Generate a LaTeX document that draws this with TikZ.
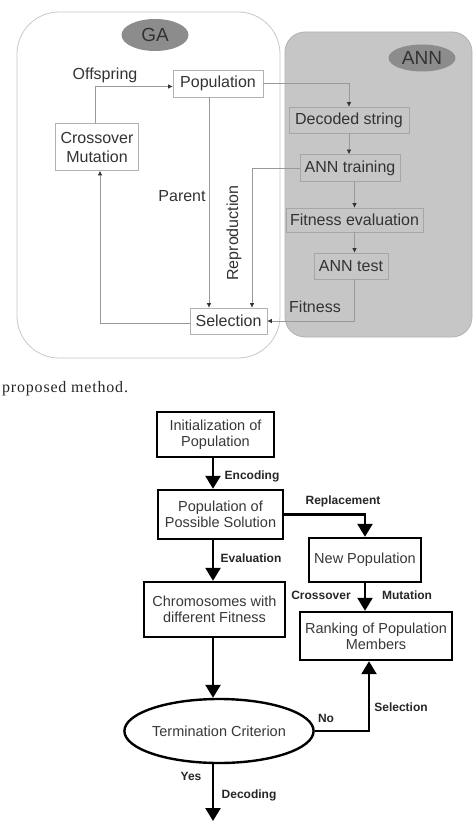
\documentclass[tikz,border=0pt]{standalone}
\usepackage{fontspec}
\setmainfont{Liberation Sans}
\newfontfamily\capfont[LetterSpace=5]{Liberation Serif}
\usetikzlibrary{arrows.meta,shapes.geometric,calc}
\definecolor{annfill}{HTML}{C6C6C6}
\definecolor{ovfill}{HTML}{8C8C8C}
\definecolor{txtA}{HTML}{333333}
\tikzset{
  gabox/.style={draw=black!30, line width=0.6pt, fill=white, text=txtA, font=\fontsize{16}{19}\selectfont, inner sep=0pt, align=center},
  annbox/.style={gabox, fill=annfill, draw=black!35},
  conA/.style={draw=black!40, line width=0.6pt},
  arrA/.style={conA, -{Latex[length=4.5pt,width=4.5pt,color=txtA]}},
  lblA/.style={text=txtA, font=\fontsize{16}{19}\selectfont, inner sep=0pt},
  ovl/.style={ellipse, fill=ovfill, draw=none, text=txtA, font=\fontsize{19}{22}\selectfont, inner sep=0pt},
  fbox/.style={draw=black, line width=2.4pt, fill=white, text=black!78, font=\fontsize{14.5}{16}\selectfont, inner sep=0pt, align=center},
  arrB/.style={draw=black, line width=2.4pt, -{Triangle[length=13pt,width=15pt]}},
  conB/.style={draw=black, line width=2.4pt},
  lblB/.style={text=black!85, font=\fontsize{12}{14}\selectfont\bfseries, inner sep=0pt},
}
\begin{document}
\begin{tikzpicture}[x=1pt,y=-1pt]
\useasboundingbox (0,0) rectangle (474,821);
% ---------- top diagram ----------
\draw[draw=black!22, line width=0.8pt, rounded corners=42pt] (17,12) rectangle (280,358);
\draw[draw=black!30, fill=annfill, line width=0.8pt, rounded corners=20pt] (285,32) rectangle (472,337);
\node[ovl, minimum width=67pt, minimum height=32pt] (ga) at (155,35) {GA};
\node[ovl, minimum width=67pt, minimum height=27pt] (ann) at (422,58) {ANN};

\node[gabox, minimum width=90pt, minimum height=27pt] (pop) at (218,83.5) {Population};
\node[gabox, minimum width=83pt, minimum height=47pt] (cm) at (97,147) {Crossover\\Mutation};
\node[gabox, minimum width=77pt, minimum height=26pt] (sel) at (228.5,321) {Selection};
\node[annbox, minimum width=120pt, minimum height=26pt] (dec) at (349,120) {Decoded string};
\node[annbox, minimum width=100pt, minimum height=27pt] (train) at (350,168) {ANN training};
\node[annbox, minimum width=137pt, minimum height=24pt] (fit) at (354.5,220) {Fitness evaluation};
\node[annbox, minimum width=74pt, minimum height=26pt] (test) at (351,266) {ANN test};

\node[lblA] (loff) at (105,75) {Offspring};
\node[lblA] (lpar) at (182,196) {Parent};
\node[lblA, rotate=90] (lrep) at (234,233) {Reproduction};
\node[lblA] (lfit) at (315,307) {Fitness};

\draw[arrA] (pop.east) -| (dec.north);
\draw[arrA] (dec.south) -- (dec.south |- train.north);
\draw[arrA] (train.south -| fit.north) -- (fit.north);
\draw[arrA] (fit.south) -- (fit.south |- test.north);
\draw[arrA] (fit.south |- test.south) |- (sel.east);
\draw[arrA] ([xshift=-9pt]pop.south) -- ([xshift=-9pt]pop.south |- sel.north);
\draw[arrA] (train.west) -| ([xshift=23.5pt]sel.north);
\draw[arrA] ([yshift=-2pt]sel.west) -| ([xshift=3pt]cm.south);
\draw[arrA] ([xshift=-2pt]cm.north) |- ([yshift=-3pt]pop.west);

% ---------- caption fragment ----------
\node[anchor=base west, inner sep=0pt, font=\capfont\fontsize{16}{18}\selectfont, text=black!85] (cap) at (2,392) {proposed method.};

% ---------- bottom diagram ----------
\coordinate (ax) at (213,0);
\coordinate (bx) at (369,0);
\node[fbox, minimum width=117pt, minimum height=45pt] (init) at (215.5,434.5) {Initialization of\\Population};
\node[fbox, minimum width=125pt, minimum height=49pt] (pos) at (220.5,514.5) {Population of\\Possible Solution};
\node[fbox, minimum width=112pt, minimum height=44pt] (newp) at (365,560) {New Population};
\node[fbox, minimum width=141pt, minimum height=55pt] (chrom) at (214.5,609.5) {Chromosomes with\\different Fitness};
\node[fbox, minimum width=152pt, minimum height=48pt] (rank) at (376,636) {Ranking of Population\\Members};
\node[fbox, ellipse, minimum width=156pt, minimum height=64pt] (term) at (219,731) {Termination Criterion};
\coordinate (endp) at (213,821);

\draw[arrB] (init.south -| ax) -- (pos.north -| ax);
\draw[arrB] (pos.east) -| (newp.north);
\draw[arrB] (pos.south -| ax) -- (chrom.north -| ax);
\draw[arrB] (newp.south) -- (newp.south |- rank.north);
\draw[arrB] (chrom.south -| ax) -- (term.north -| ax);
\draw[arrB] (term.east) -| (rank.south -| bx);
\draw[arrB] (term.south -| ax) -- (endp);

\node[lblB] (lenc) at (252,476) {Encoding};
\node[lblB] (lrepl) at (343,501) {Replacement};
\node[lblB] (leval) at (251,558) {Evaluation};
\node[lblB] (lcross) at (321,595) {Crossover};
\node[lblB] (lmut) at (407,595) {Mutation};
\node[lblB] (lno) at (326,718) {No};
\node[lblB] (lsel) at (401,707) {Selection};
\node[lblB] (lyes) at (191,776) {Yes};
\node[lblB] (ldec) at (249,795) {Decoding};
\end{tikzpicture}
\end{document}
